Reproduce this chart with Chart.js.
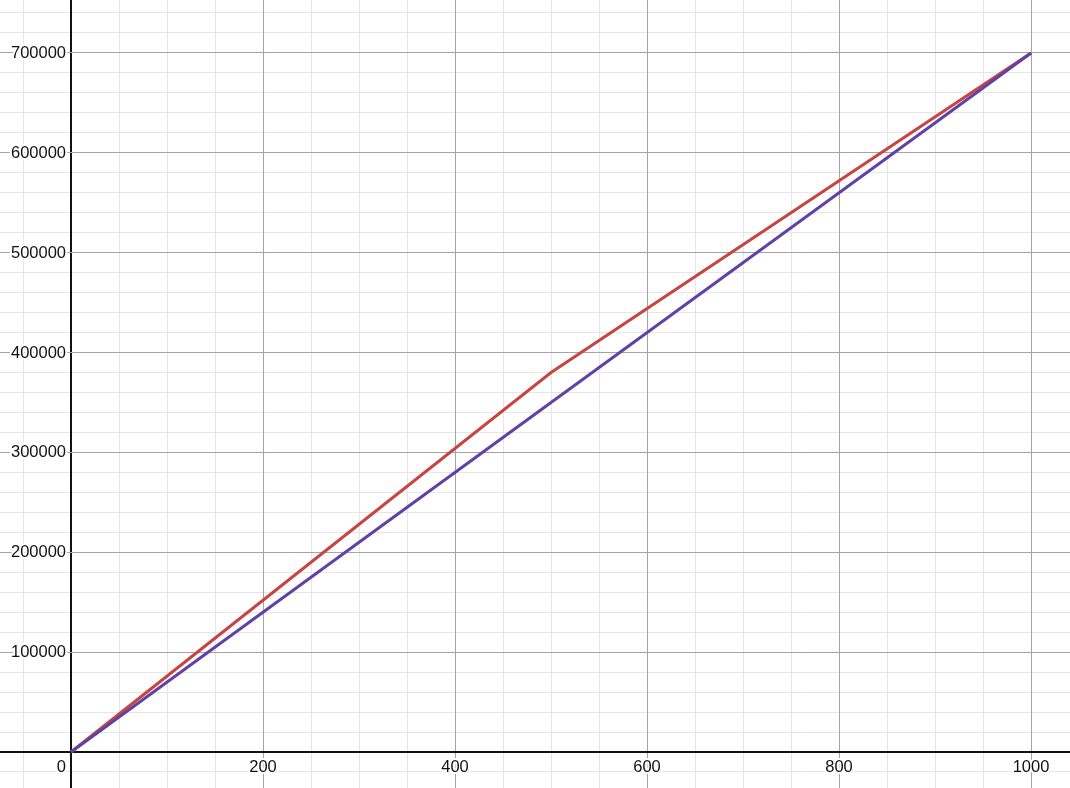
<!DOCTYPE html>
<html>
<head>
<meta charset="utf-8">
<script src="https://cdn.jsdelivr.net/npm/chart.js@4"></script>
<style>
html,body{margin:0;padding:0;background:#fff;}
#wrap{width:1070px;height:788px;position:relative;}
</style>
</head>
<body>
<div id="wrap"><canvas id="c"></canvas></div>
<script>
// Data
const redX = [0, 500, 1000];
const redY = [0, 380000, 700000];
const purpleX = [0, 1000];
const purpleY = [0, 700000];
const xTickLabels = [200, 400, 600, 800, 1000];
const yTickLabels = [100000, 200000, 300000, 400000, 500000, 600000, 700000];
const originLabel = '0';

const xMin = -74, xMax = 1040.6;
const yMin = -36050, yMax = 753000;

const MAJOR = '#a4a4a4';
const MINOR = '#e6e6e6';
const AXIS = '#111';
const FONT = '16.5px "Liberation Sans", Arial, sans-serif';

function pts(xs, ys){ return xs.map((x,i)=>({x:x, y:ys[i]})); }

const labelPlugin = {
  id: 'desmosLabels',
  afterDraw(chart){
    const ctx = chart.ctx;
    const xs = chart.scales.x, ys = chart.scales.y;
    const x0 = xs.getPixelForValue(0), y0 = ys.getPixelForValue(0);
    ctx.save();
    ctx.font = FONT;
    ctx.lineJoin = 'round';
    ctx.strokeStyle = '#fff';
    ctx.lineWidth = 4;
    ctx.fillStyle = '#111';
    ctx.textBaseline = 'middle';
    ctx.textAlign = 'center';
    xTickLabels.forEach(v=>{
      const px = xs.getPixelForValue(v);
      ctx.strokeText(String(v), px, y0 + 15);
      ctx.fillText(String(v), px, y0 + 15);
    });
    ctx.textAlign = 'right';
    ctx.strokeText(originLabel, x0 - 5, y0 + 15);
    ctx.fillText(originLabel, x0 - 5, y0 + 15);
    yTickLabels.forEach(v=>{
      const py = ys.getPixelForValue(v);
      ctx.strokeText(String(v), x0 - 5, py + 0.5);
      ctx.fillText(String(v), x0 - 5, py + 0.5);
    });
    ctx.restore();
  }
};

function gridOpts(isMajor){
  return {
    drawTicks: false,
    color: c => (isMajor && c.tick.value === 0) ? AXIS : (isMajor ? MAJOR : MINOR),
    lineWidth: c => (isMajor && c.tick.value === 0) ? 2 : 1
  };
}

function axis(axisId, min, max, step, isMajor, pos){
  return {
    type: 'linear',
    position: pos,
    axis: axisId,
    min: min, max: max,
    display: true,
    border: {display: false},
    ticks: {display: false, autoSkip: false},
    grid: gridOpts(isMajor),
    afterBuildTicks: scale => {
      const t = [];
      for (let k = Math.ceil(min / step); k * step <= max; k++) t.push({value: k * step});
      scale.ticks = t;
    }
  };
}

new Chart(document.getElementById('c'), {
  type: 'scatter',
  data: {
    datasets: [
      {data: pts(purpleX, purpleY), showLine: true, borderColor: '#6042a6', borderWidth: 3, pointRadius: 0, xAxisID: 'x', yAxisID: 'y'},
      {data: pts(redX, redY), showLine: true, borderColor: '#c74440', borderWidth: 3, pointRadius: 0, xAxisID: 'x', yAxisID: 'y'}
    ]
  },
  options: {
    responsive: true,
    maintainAspectRatio: false,
    animation: false,
    layout: {padding: 0},
    plugins: {legend: {display: false}, tooltip: {enabled: false}},
    scales: {
      xMinor: axis('x', xMin, xMax, 50, false, 'bottom'),
      yMinor: axis('y', yMin, yMax, 20000, false, 'left'),
      x: axis('x', xMin, xMax, 200, true, 'bottom'),
      y: axis('y', yMin, yMax, 100000, true, 'left')
    }
  },
  plugins: [labelPlugin]
});
</script>
</body>
</html>
